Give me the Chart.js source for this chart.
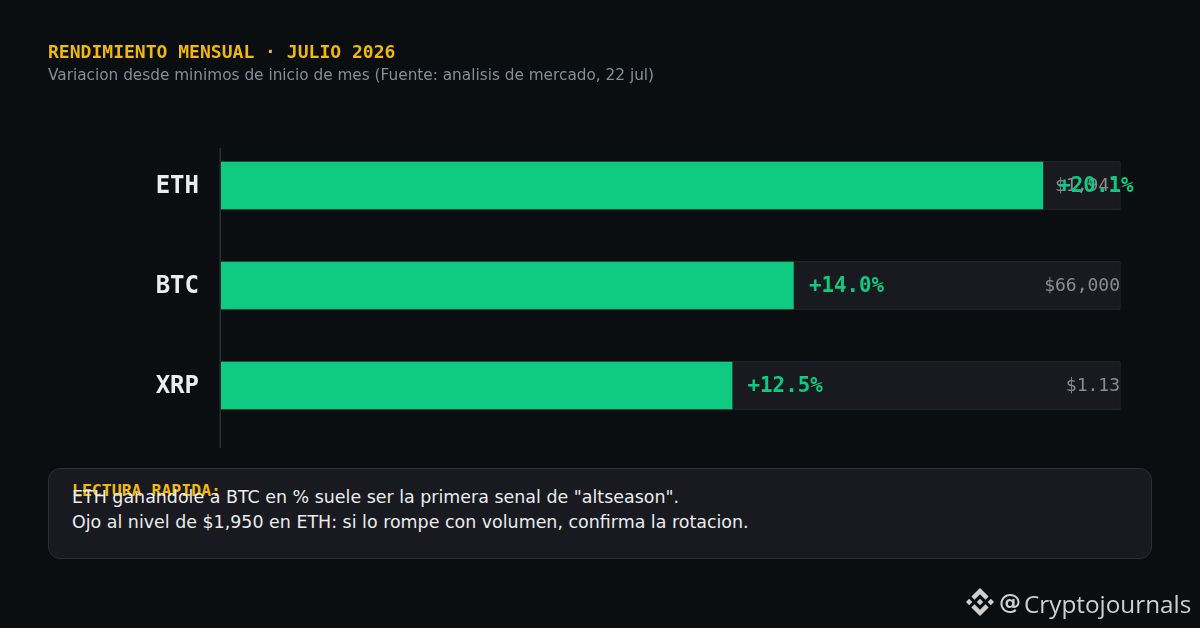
<!DOCTYPE html>
<html>
<head>
<meta charset="utf-8">
<script src="https://cdn.jsdelivr.net/npm/chart.js@4"></script>
<style>
  html, body { margin: 0; padding: 0; background: #0b0e11; }
  #wrap { position: relative; width: 1200px; height: 628px; overflow: hidden; background: #0a0e11; }
  #wrap div, #wrap svg { position: absolute; white-space: nowrap; }
  canvas { position: absolute; left: 0; top: 0; }
  .title { left: 48px; top: 41px; font: bold 18.05px "DejaVu Sans Mono", monospace; color: #f0b90b; }
  .subtitle { left: 48px; top: 66px; font: 15.3px "DejaVu Sans", sans-serif; color: #848e9c; }
  .panel { left: 48px; top: 468px; width: 1102px; height: 89px; background: #181a20; border: 1px solid #2b2f36; border-radius: 12px; }
  .panelHead { left: 72px; top: 481px; font: bold 16.5px "DejaVu Sans Mono", monospace; color: #f0b90b; }
  .panelText { left: 72px; font: 17.45px "DejaVu Sans", sans-serif; color: #eaecef; }
  .at { left: 999px; top: 589px; font: bold 22px "DejaVu Sans", sans-serif; color: #cfcfcf; }
  .mark { left: 1024px; top: 587px; font: 24.3px "Open Sans", sans-serif; color: #cfcfcf; }
</style>
</head>
<body>
<div id="wrap">
  <canvas id="chart" width="1200" height="628"></canvas>
  <div class="title">RENDIMIENTO MENSUAL · JULIO 2026</div>
  <div class="subtitle">Variacion desde minimos de inicio de mes (Fuente: analisis de mercado, 22 jul)</div>
  <div class="panel"></div>
  <div class="panelHead">LECTURA RAPIDA:</div>
  <div class="panelText" style="top:487px">ETH ganandole a BTC en % suele ser la primera senal de "altseason".</div>
  <div class="panelText" style="top:512px">Ojo al nivel de $1,950 en ETH: si lo rompe con volumen, confirma la rotacion.</div>
  <svg style="left:966px;top:588px" width="28" height="28" viewBox="0 0 126.61 126.61" fill="#cfcfcf">
    <path d="M38.73 53.2 63.3 28.63 87.89 53.22l14.3-14.3L63.3 0 24.43 38.88Z"/>
    <path d="M0 63.3 14.3 49l14.3 14.3-14.3 14.3Z"/>
    <path d="M38.73 73.41 63.3 98l24.59-24.6 14.31 14.29-38.9 38.92-38.88-38.9Z"/>
    <path d="M98 63.31 112.3 49l14.31 14.3-14.31 14.3Z"/>
    <path d="M77.83 63.3 63.3 48.76 48.78 63.27 63.3 77.83Z"/>
  </svg>
  <div class="at">@</div>
  <div class="mark">Cryptojournals</div>
</div>
<script>
const categories = ["ETH", "BTC", "XRP"];
const gains = [20.1, 14.0, 12.5];
const gainLabels = ["+20.1%", "+14.0%", "+12.5%"];
const prices = ["$1,941", "$66,000", "$1.13"];
const track = [22, 22, 22];

const barLabels = {
  id: "barLabels",
  beforeDatasetsDraw(chart) {
    // thin vertical rule next to the category names
    const ctx = chart.ctx;
    ctx.save();
    ctx.strokeStyle = "#2a2e34";
    ctx.lineWidth = 1.5;
    ctx.beginPath();
    ctx.moveTo(chart.chartArea.left - 0.75, 148);
    ctx.lineTo(chart.chartArea.left - 0.75, 448);
    ctx.stroke();
    ctx.restore();
  },
  afterDatasetsDraw(chart) {
    const ctx = chart.ctx;
    const x = chart.scales.x;
    const y = chart.scales.y;
    ctx.save();
    ctx.textBaseline = "middle";
    categories.forEach((c, i) => {
      ctx.textAlign = "right";
      ctx.font = '18px "DejaVu Sans Mono", monospace';
      ctx.fillStyle = "#888c94";
      ctx.fillText(prices[i], 1120, y.getPixelForValue(i) + 0.5);
      ctx.textAlign = "left";
      ctx.font = 'bold 20.8px "DejaVu Sans Mono", monospace';
      ctx.fillStyle = "#0ecb81";
      ctx.fillText(gainLabels[i], x.getPixelForValue(gains[i]) + 15.5, y.getPixelForValue(i) + 1.5);
    });
    ctx.restore();
  }
};

new Chart(document.getElementById("chart"), {
  type: "bar",
  data: {
    labels: categories,
    datasets: [
      { data: gains, backgroundColor: "#0ecb81", barThickness: 47, grouped: false, order: 1 },
      { data: track, backgroundColor: "#181a20", borderColor: "#30343b", borderWidth: 1, barThickness: 48, grouped: false, order: 2 }
    ]
  },
  options: {
    indexAxis: "y",
    responsive: false,
    animation: false,
    layout: { padding: { top: 135.5, right: 79.5, bottom: 192.5, left: 0 } },
    plugins: { legend: { display: false }, tooltip: { enabled: false } },
    scales: {
      x: { display: false, min: 0, max: 22 },
      y: {
        afterFit(scale) { scale.width = 221; },
        grid: { display: false },
        border: { display: false },
        ticks: {
          color: "#eaecef",
          padding: 14,
          labelOffset: 1.5,
          font: { family: '"DejaVu Sans Mono", monospace', size: 24, weight: "bold" }
        }
      }
    }
  },
  plugins: [barLabels]
});
</script>
</body>
</html>
